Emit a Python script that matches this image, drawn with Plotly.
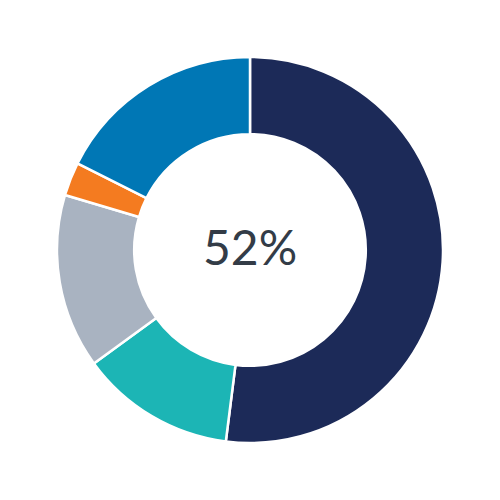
import plotly.graph_objects as go

labels = ["A", "B", "C", "D", "E"]
values = [52, 13, 14.6, 2.8, 17.6]
colors = ["#1c2a58", "#1cb5b5", "#a9b3c1", "#f47b20", "#0077b5"]
center_text = "52%"

fig = go.Figure(
    go.Pie(
        labels=labels,
        values=values,
        sort=False,
        direction="clockwise",
        rotation=0,
        hole=0.6,
        marker=dict(colors=colors, line=dict(color="white", width=2.5)),
        textinfo="none",
        hoverinfo="none",
    )
)

fig.add_annotation(
    text=center_text,
    x=0.5,
    y=0.5,
    xref="paper",
    yref="paper",
    yshift=4,
    showarrow=False,
    font=dict(family="Lato", size=48, color="#333c47"),
)

# page body has an 8px margin, so shift the plot up/left to centre it at 250
fig.update_layout(
    width=500,
    height=500,
    showlegend=False,
    margin=dict(l=49, r=65, t=49, b=65),
    paper_bgcolor="white",
    plot_bgcolor="white",
)

fig.write_html("out.html")
